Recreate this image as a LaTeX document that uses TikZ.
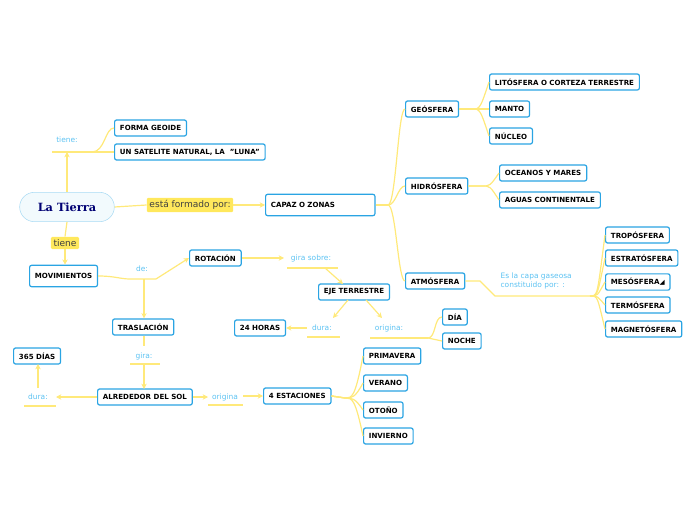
\documentclass[tikz,border=0pt]{standalone}
\usepackage{fontspec}
\setmainfont{DejaVu Sans}
\newfontfamily\titlefont{DejaVu Serif}
\usetikzlibrary{arrows.meta}
\definecolor{bx}{HTML}{2AA4E3}
\definecolor{ln}{HTML}{FFE97A}
\definecolor{lb}{HTML}{5CC2F2}
\definecolor{yl}{HTML}{FFE85C}
\begin{document}
\begin{tikzpicture}[x=0.75pt,y=-0.75pt,
 bxs/.style={draw=bx,line width=0.9pt,rounded corners=1.5pt,fill=white,font=\fontsize{5.3}{6}\selectfont\bfseries,minimum height=12pt,inner xsep=4pt,anchor=west},
 lab/.style={text=lb,font=\fontsize{5.6}{6.5}\selectfont,inner sep=1pt},
 ylab/.style={fill=yl,rounded corners=1pt,font=\fontsize{6.8}{8}\selectfont,text=black!75,inner sep=2pt},
 cn/.style={draw=ln,line width=0.9pt},
 ar/.style={cn,-{Stealth[length=4pt,width=4pt]}}]
\useasboundingbox (0,0) rectangle (696,520);
% main
\node[draw=bx!40,fill=bx!6,rounded corners=11pt,minimum width=71pt,minimum height=22pt,font=\titlefont\bfseries\fontsize{8.5}{10}\selectfont,text=blue!45!black] (tierra) at (67,207) {La Tierra};
\node[ylab] (form) at (190,205) {está formado por:};
\node[bxs,text width=74pt,minimum height=16pt,align=left] (capaz) at (265,205) {CAPAZ O ZONAS};
\node[ylab] (tiene2) at (65,243) {tiene};
\node[lab] (tiene1) at (67,140) {tiene:};
\coordinate (t1a) at (52,152); \coordinate (t1b) at (92,152);
\node[bxs] (geoide) at (114,128) {FORMA GEOIDE};
\node[bxs] (satel) at (114,152) {UN SATELITE NATURAL, LA \ "LUNA"};
\draw[ar] (tierra.north) -- (67,152);
\draw[cn] (t1a) -- (t1b);
\draw[cn] (t1b) .. controls (105,152) and (105,128) .. (geoide.west);
\draw[cn] (t1b) -- (satel.west);
\draw[cn] (tierra.east) -- (form.west);
\draw[ar] (form.east) -- (capaz.west);
\draw[cn] (tierra.south) -- (tiene2.north);
\node[bxs,minimum height=16pt] (mov) at (29,276) {MOVIMIENTOS};
\draw[ar] (tiene2.south) -- (mov.north -| tiene2);
% movimientos
\node[lab] (de) at (142,269) {de:};
\coordinate (dea) at (130,279); \coordinate (deb) at (156,279);
\draw[cn] (mov.east) .. controls (115,276) and (120,279) .. (dea) -- (deb);
\node[bxs] (rot) at (189,258) {ROTACIÓN};
\draw[ar] (deb) -- (rot.west);
\node[bxs] (tras) at (112,327) {TRASLACIÓN};
\draw[ar] (144,279) -- (tras.north -| 144,0);
\node[lab] (girasob) at (311,258) {gira sobre:};
\coordinate (gsa) at (287,268); \coordinate (gsb) at (338,268);
\draw[ar] (rot.east) -- (284,258);
\draw[cn] (gsa) -- (gsb);
\node[bxs] (eje) at (318,292) {EJE TERRESTRE};
\draw[ar] (325,268) -- (343,284);
\node[lab] (dura1) at (322,328) {dura:};
\coordinate (d1a) at (307,337); \coordinate (d1b) at (340,337);
\draw[cn] (d1a) -- (d1b);
\draw[ar] (348,300) -- (333,318);
\node[bxs] (h24) at (234,328) {24 HORAS};
\draw[ar] (307,328) -- (h24.east);
\node[lab] (orig1) at (389,328) {origina:};
\coordinate (o1a) at (370,338); \coordinate (o1b) at (428,338);
\draw[cn] (o1a) -- (o1b);
\draw[ar] (366,300) -- (382,318);
\node[bxs] (dia) at (442,317) {DÍA};
\node[bxs] (noche) at (442,341) {NOCHE};
\draw[cn] (o1b) .. controls (436,338) and (434,317) .. (dia.west);
\draw[cn] (o1b) -- (noche.west);
% traslacion
\node[lab] (gira) at (144,356) {gira:};
\coordinate (ga) at (130,364); \coordinate (gb) at (160,364);
\draw[cn] (tras.south -| 144,0) -- (144,346);
\draw[cn] (ga) -- (gb);
\node[bxs] (sol) at (97,397) {ALREDEDOR DEL SOL};
\draw[ar] (144,364) -- (144,389);
\node[lab] (dura2) at (38,397) {dura:};
\coordinate (d2a) at (24,406); \coordinate (d2b) at (56,406);
\draw[cn] (d2a) -- (d2b);
\draw[ar] (sol.west) -- (56,397);
\node[bxs] (d365) at (13,356) {365 DÍAS};
\draw[ar] (38,388) -- (38,364);
\node[lab] (orig2) at (225,397) {origina};
\coordinate (o2a) at (208,405); \coordinate (o2b) at (243,405);
\draw[cn] (o2a) -- (o2b);
\draw[ar] (sol.east) -- (208,397);
\node[bxs] (est) at (263,396) {4 ESTACIONES};
\draw[ar] (243,396) -- (est.west);
\node[bxs] (prim) at (363,356) {PRIMAVERA};
\node[bxs] (ver) at (363,383) {VERANO};
\node[bxs] (oto) at (363,410) {OTOÑO};
\node[bxs] (inv) at (363,436) {INVIERNO};
\foreach \n in {prim,ver,oto,inv} \draw[cn] (est.east) -- (345,398) .. controls (352,398) and (355,398) .. (\n.west);
% capaz
\coordinate (cz) at (388,205);
\draw[cn] (capaz.east) -- (cz);
\node[bxs] (geo) at (405,109) {GEÓSFERA};
\node[bxs] (hid) at (405,186) {HIDRÓSFERA};
\node[bxs] (atm) at (405,281) {ATMÓSFERA};
\draw[cn] (cz) .. controls (396,205) and (398,109) .. (geo.west);
\draw[cn] (cz) .. controls (396,205) and (398,186) .. (hid.west);
\draw[cn] (cz) .. controls (396,205) and (398,281) .. (atm.west);
\node[bxs] (lit) at (489,82) {LITÓSFERA O CORTEZA TERRESTRE};
\node[bxs] (man) at (489,109) {MANTO};
\node[bxs] (nuc) at (489,136) {NÚCLEO};
\foreach \n in {lit,man,nuc} \draw[cn] (geo.east) -- (472,109) .. controls (480,109) and (480,109) .. (\n.west);
\node[bxs] (oce) at (499,173) {OCEANOS Y MARES};
\node[bxs] (agu) at (499,200) {AGUAS CONTINENTALE};
\foreach \n in {oce,agu} \draw[cn] (hid.east) -- (482,186) .. controls (490,186) and (490,186) .. (\n.west);
\node[lab,align=left,anchor=west] (capa) at (499,281) {Es la capa gaseosa\\constituido por: :};
\coordinate (ca) at (495,296); \coordinate (cb) at (590,296);
\draw[cn] (atm.east) -- (480,281) -- (ca) -- (cb);
\node[bxs] (tro) at (605,235) {TROPÓSFERA};
\node[bxs] (estr) at (605,258) {ESTRATÓSFERA};
\node[bxs] (mes) at (605,282) {MESÓSFERA{\fontspec{DejaVu Sans}\fontsize{5}{6}\selectfont◢}};
\node[bxs] (ter) at (605,305) {TERMÓSFERA};
\node[bxs] (mag) at (605,329) {MAGNETÓSFERA};
\foreach \n in {tro,estr,mes,ter,mag} \draw[cn] (cb) .. controls (598,296) and (597,296) .. (\n.west);
\end{tikzpicture}
\end{document}
